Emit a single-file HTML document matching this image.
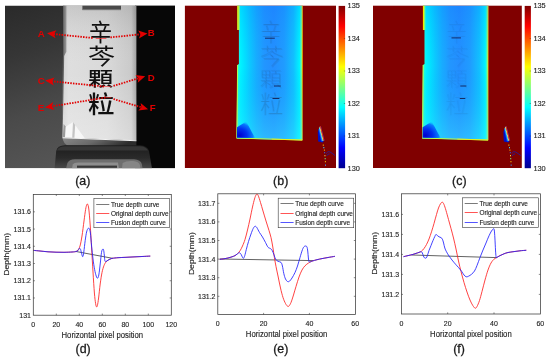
<!DOCTYPE html>
<html lang="en"><head><meta charset="utf-8"><title>Depth fusion figure</title>
<style>
html,body{margin:0;padding:0;background:#fff;}
body{width:550px;height:363px;overflow:hidden;}
svg{display:block;}
text{font-family:"Liberation Sans", sans-serif;fill:#262626;}
.tk,.lb,.lg,.cb{stroke:#262626;stroke-width:0.13px;}
.tk{font-size:7px;}
.lb{font-size:7.73px;}
.lg{font-size:6.47px;}
.cap{font-size:12.4px;fill:#1a1a1a;stroke:#1a1a1a;stroke-width:0.3px;}
.cb{font-size:7.4px;}
.red{font-size:9.7px;fill:#e00000;font-weight:bold;}
.han{font-family:"Liberation Sans", "Noto Sans CJK SC", sans-serif;fill:#101010;}
.emb{font-family:"Liberation Sans", "Noto Sans CJK SC", sans-serif;font-weight:200;}
</style></head><body>
<svg width="550" height="363" viewBox="0 0 550 363">
<defs>
<linearGradient id="bgL" gradientUnits="userSpaceOnUse" x1="5" y1="5" x2="60" y2="168"><stop offset="0" stop-color="#2a2a2a"/><stop offset="0.3" stop-color="#363636"/><stop offset="0.65" stop-color="#4a4a4a"/><stop offset="1" stop-color="#565656"/></linearGradient>
<linearGradient id="boxG" x1="0" y1="0" x2="1" y2="0"><stop offset="0" stop-color="#d2d2d2"/><stop offset="0.08" stop-color="#dedede"/><stop offset="0.6" stop-color="#d9d9d9"/><stop offset="0.93" stop-color="#cacaca"/><stop offset="1" stop-color="#a0a0a0"/></linearGradient>
<linearGradient id="boxV" x1="0" y1="0" x2="0" y2="1"><stop offset="0" stop-color="#000" stop-opacity="0.10"/><stop offset="0.5" stop-color="#fff" stop-opacity="0"/><stop offset="1" stop-color="#fff" stop-opacity="0.28"/></linearGradient>
<linearGradient id="standG" x1="0" y1="0" x2="0" y2="1"><stop offset="0" stop-color="#1c1c1c"/><stop offset="0.55" stop-color="#2a2a2a"/><stop offset="1" stop-color="#4a4a4a"/></linearGradient>
<linearGradient id="shadG" x1="0" y1="0" x2="1" y2="0.25"><stop offset="0" stop-color="#8a8a8a"/><stop offset="0.5" stop-color="#6a6a6a"/><stop offset="1" stop-color="#2c2c2c"/></linearGradient>
<linearGradient id="jet" x1="0" y1="1" x2="0" y2="0"><stop offset="0" stop-color="#00008f"/><stop offset="0.125" stop-color="#0000ff"/><stop offset="0.375" stop-color="#00ffff"/><stop offset="0.625" stop-color="#ffff00"/><stop offset="0.875" stop-color="#ff0000"/><stop offset="1" stop-color="#800000"/></linearGradient>
<linearGradient id="dbox" x1="0" y1="0" x2="1" y2="0"><stop offset="0" stop-color="#a0ff60"/><stop offset="0.025" stop-color="#20ffd8"/><stop offset="0.06" stop-color="#00f4ff"/><stop offset="0.12" stop-color="#02e2ff"/><stop offset="0.20" stop-color="#0cc8ff"/><stop offset="0.30" stop-color="#18acff"/><stop offset="0.42" stop-color="#2296ff"/><stop offset="0.56" stop-color="#248eff"/><stop offset="0.72" stop-color="#209cff"/><stop offset="0.86" stop-color="#12c0ff"/><stop offset="0.95" stop-color="#00f4ff"/><stop offset="0.978" stop-color="#60ffa0"/><stop offset="0.992" stop-color="#ffe800"/><stop offset="1" stop-color="#ff9000"/></linearGradient>
<linearGradient id="dboxV" x1="0" y1="0" x2="0" y2="1"><stop offset="0" stop-color="#0060ff" stop-opacity="0.18"/><stop offset="0.45" stop-color="#00a0ff" stop-opacity="0"/><stop offset="1" stop-color="#40f0ff" stop-opacity="0.40"/></linearGradient>
<linearGradient id="artG" x1="0" y1="0" x2="1" y2="0"><stop offset="0" stop-color="#0000c0"/><stop offset="0.35" stop-color="#0040ff"/><stop offset="0.55" stop-color="#20e0ff"/><stop offset="0.72" stop-color="#ffe000"/><stop offset="0.88" stop-color="#ff3000"/><stop offset="1" stop-color="#a00000"/></linearGradient>
<radialGradient id="blob" cx="0.15" cy="0.85" r="0.9"><stop offset="0" stop-color="#0000d0"/><stop offset="0.45" stop-color="#0030f0"/><stop offset="0.8" stop-color="#0878ff"/><stop offset="1" stop-color="#10a8ff" stop-opacity="0"/></radialGradient>
<clipPath id="clipA"><rect x="5" y="5.5" width="170" height="162.8"/></clipPath>
</defs>
<rect x="0" y="0" width="550" height="363" fill="#ffffff"/>
<g clip-path="url(#clipA)">
<rect x="5" y="5.5" width="170" height="162.8" fill="url(#bgL)"/>
<rect x="135" y="5.5" width="40" height="162.8" fill="#070707"/>
<path d="M63.2 5.5 L66.4 5.5 L66.4 138 L62.4 138.2 L63.0 52 Z" fill="#8c8c8c"/>
<path d="M63.2 5.5 L64.4 5.5 L64.2 138 L62.4 138.2 L63.0 52 Z" fill="#626262"/>
<path d="M66.2 5.5 L136.4 5.5 L136.4 140.6 L62.6 137.6 L64.2 56 L66.2 52 Z" fill="url(#boxG)"/>
<path d="M66.2 5.5 L136.4 5.5 L136.4 140.6 L62.6 137.6 L64.2 56 L66.2 52 Z" fill="url(#boxV)"/>
<rect x="82.4" y="5.5" width="38.6" height="4.4" fill="#4a4a4a"/>
<rect x="82.4" y="9.3" width="38.6" height="0.9" fill="#808080"/>
<path d="M64.6 137.6 L65.4 127 L73 122 L78 129 L85 138.4 Z" fill="#f7f7f7"/>
<path d="M73 122 L75.2 125 L74.4 138 L72.2 137.9 Z" fill="#c4c4c4"/>
<path d="M63.6 124 L65.6 126.6 L65 137.6 L62.8 137.6 Z" fill="#9a9a9a"/>
<path d="M62.4 137.6 L136.4 140.6 L136.4 146 L68 145.6 Q63.2 143.6 62.4 137.6 Z" fill="url(#shadG)"/>
<path d="M62.6 137.3 L136.4 140.3 L136.4 141.3 L62.6 138.3 Z" fill="#f4f4f4"/>
<path d="M54.6 168.5 L56.2 151 Q57.4 145.4 65 145.2 L140 145.2 Q147.5 145.6 149 151 L152 168.5 Z" fill="url(#standG)"/>
<path d="M57 150.6 Q58 146.4 65 146.2 L140 146.2 Q146 146.4 148 150.6 Z" fill="#3c3c3c" opacity="0.8"/>
<path d="M66 168.5 L67.4 163 Q69 159.4 75 159.2 L134 159.2 Q140.6 159.6 141.8 164 L142.6 168.5 Z" fill="#6e6e6e"/>
<path d="M72 168.5 L72.8 164.6 Q74 162.6 78 162.6 L118 162.6 L119 168.5 Z" fill="#9a9a9a" opacity="0.75"/>
<rect x="77" y="165.6" width="40" height="2.2" fill="#2a2a2a" opacity="0.85"/>
<path d="M122 168.5 L122.6 163 Q126 160.6 133 161 Q139 161.6 140 165 L140.4 168.5 Z" fill="#8c8c8c" opacity="0.8"/>
</g>
<text class="han" transform="translate(100.60 40.94) scale(1.051 1.100)" font-size="22" font-weight="400" text-anchor="middle">辛</text>
<text class="han" transform="translate(101.50 64.36) scale(1.222 0.986)" font-size="22" font-weight="400" text-anchor="middle">芩</text>
<text class="han" transform="translate(100.70 86.33) scale(1.144 0.895)" font-size="22" font-weight="500" text-anchor="middle">顆</text>
<text class="han" transform="translate(101.30 112.76) scale(1.207 1.091)" font-size="22" font-weight="500" text-anchor="middle">粒</text>
<line x1="92.60" y1="38.00" x2="53.96" y2="34.02" stroke="#e20000" stroke-width="1.8" stroke-dasharray="1.5 1.2"/>
<path d="M47.00 33.30 L56.36 30.24 L53.96 34.02 L55.54 38.20 Z" fill="#e20000"/>
<line x1="110.40" y1="37.40" x2="140.54" y2="34.31" stroke="#e20000" stroke-width="1.8" stroke-dasharray="1.5 1.2"/>
<path d="M147.50 33.60 L138.95 38.50 L140.54 34.31 L138.14 30.54 Z" fill="#e20000"/>
<line x1="104.00" y1="86.50" x2="52.17" y2="81.30" stroke="#e20000" stroke-width="1.8" stroke-dasharray="1.5 1.2"/>
<path d="M45.20 80.60 L54.55 77.52 L52.17 81.30 L53.76 85.48 Z" fill="#e20000"/>
<line x1="113.50" y1="85.90" x2="138.51" y2="78.25" stroke="#e20000" stroke-width="1.8" stroke-dasharray="1.5 1.2"/>
<path d="M145.20 76.20 L137.76 82.66 L138.51 78.25 L135.42 75.01 Z" fill="#e20000"/>
<line x1="105.50" y1="97.50" x2="51.91" y2="106.36" stroke="#e20000" stroke-width="1.8" stroke-dasharray="1.5 1.2"/>
<path d="M45.00 107.50 L53.23 102.09 L51.91 106.36 L54.53 109.98 Z" fill="#e20000"/>
<line x1="113.50" y1="99.00" x2="141.39" y2="107.30" stroke="#e20000" stroke-width="1.8" stroke-dasharray="1.5 1.2"/>
<path d="M148.10 109.30 L138.33 110.57 L141.39 107.30 L140.62 102.90 Z" fill="#e20000"/>
<line x1="95.7" y1="38.5" x2="106.4" y2="38.5" stroke="#ff3030" stroke-width="0.7"/>
<line x1="104" y1="86.5" x2="111.5" y2="86.5" stroke="#ff3030" stroke-width="0.6"/>
<line x1="105.5" y1="97.6" x2="111.5" y2="97.6" stroke="#ff3030" stroke-width="0.6"/>
<text class="red" x="41.2" y="36.6" text-anchor="middle">A</text>
<text class="red" x="151.3" y="35.8" text-anchor="middle">B</text>
<text class="red" x="41.3" y="84" text-anchor="middle">C</text>
<text class="red" x="151.2" y="81" text-anchor="middle">D</text>
<text class="red" x="40.9" y="110.6" text-anchor="middle">E</text>
<text class="red" x="152.8" y="111" text-anchor="middle">F</text>
<rect x="184.9" y="5.7" width="151.1" height="162.3" fill="#800000"/>
<path d="M237.4 5.7 L302.8 5.7 L302.6 140.3 L236.6 138.4 L237.3 65 L238.9 64 L238.9 30 L237.4 30 Z" fill="url(#dbox)"/>
<path d="M237.4 5.7 L302.8 5.7 L302.6 140.3 L236.6 138.4 L237.3 65 L238.9 64 L238.9 30 L237.4 30 Z" fill="url(#dboxV)"/>
<line x1="237.2" y1="138.1" x2="302.2" y2="140" stroke="#b8ff48" stroke-width="1"/>
<line x1="271.8" y1="139.1" x2="302.2" y2="140.1" stroke="#ffe800" stroke-width="0.9" stroke-opacity="0.8"/>
<rect x="237.3" y="5.7" width="1.5" height="24.3" fill="#f0e800"/>
<rect x="238.8" y="5.7" width="0.8" height="24.3" fill="#90ff70"/>
<path d="M237.6 65 L236.9 138.4" stroke="#a8ff58" stroke-width="1" fill="none"/>
<path d="M236.9 137.8 L237 127.2 L246.2 121.4 L248.4 125.5 L252.3 133 L255.3 138 Z" fill="url(#blob)"/>
<text class="emb" transform="translate(270.79 40.94) scale(0.925 1.100)" font-size="22" text-anchor="middle" fill="#0048f0" fill-opacity="0.1">辛</text>
<text class="emb" transform="translate(271.59 41.24) scale(0.925 1.100)" font-size="22" text-anchor="middle" fill="#90f0ff" fill-opacity="0.08">辛</text>
<text class="emb" transform="translate(271.61 64.36) scale(1.075 0.986)" font-size="22" text-anchor="middle" fill="#0048f0" fill-opacity="0.1">芩</text>
<text class="emb" transform="translate(272.41 64.66) scale(1.075 0.986)" font-size="22" text-anchor="middle" fill="#90f0ff" fill-opacity="0.08">芩</text>
<text class="emb" transform="translate(270.88 86.33) scale(1.006 0.895)" font-size="22" text-anchor="middle" fill="#0048f0" fill-opacity="0.1">顆</text>
<text class="emb" transform="translate(271.68 86.63) scale(1.006 0.895)" font-size="22" text-anchor="middle" fill="#90f0ff" fill-opacity="0.08">顆</text>
<text class="emb" transform="translate(271.43 112.76) scale(1.062 1.091)" font-size="22" text-anchor="middle" fill="#0048f0" fill-opacity="0.1">粒</text>
<text class="emb" transform="translate(272.23 113.06) scale(1.062 1.091)" font-size="22" text-anchor="middle" fill="#90f0ff" fill-opacity="0.08">粒</text>
<line x1="265" y1="38.2" x2="274.8" y2="38.2" stroke="#101040" stroke-width="0.8"/>
<line x1="274" y1="86" x2="280.8" y2="86" stroke="#101040" stroke-width="0.8"/>
<line x1="272.5" y1="98.5" x2="279.4" y2="98.5" stroke="#101040" stroke-width="0.8"/>
<path d="M319.8 126.2 L321 126.2 L324.6 140.2 L322.6 142.5 L318.2 141.4 L317.8 132 Z" fill="#0010c8"/>
<line x1="318.89" y1="129.28" x2="321.70" y2="141.50" stroke="#0050ff" stroke-width="1"/>
<line x1="319.33" y1="127.88" x2="322.50" y2="141.14" stroke="#28e0ff" stroke-width="0.9"/>
<line x1="319.78" y1="126.90" x2="323.20" y2="140.83" stroke="#fff060" stroke-width="0.9"/>
<line x1="320.40" y1="126.20" x2="324.00" y2="140.47" stroke="#ff3000" stroke-width="0.9"/>
<rect x="322.8" y="144.5" width="0.9" height="1.3" fill="#ffd000"/>
<rect x="323.4" y="147.0" width="0.9" height="1.3" fill="#40e0ff"/>
<rect x="323.9" y="149.5" width="0.9" height="1.3" fill="#ffb000"/>
<rect x="324.2" y="152.0" width="0.9" height="1.3" fill="#2060ff"/>
<rect x="324.5" y="155.0" width="0.9" height="1.3" fill="#ffe040"/>
<rect x="324.7" y="158.0" width="0.9" height="1.3" fill="#60ff90"/>
<rect x="324.9" y="161.0" width="0.9" height="1.3" fill="#ffd000"/>
<rect x="325.1" y="164.5" width="0.9" height="1.3" fill="#40a0ff"/>
<path d="M326.1 153.5 q2 -3 4 -1.5 q2.5 1.5 5 3.5 M326.6 156 q1 -2.5 3 -2" fill="none" stroke="#1020c0" stroke-width="0.7"/>
<rect x="338.6" y="5.9" width="6.5" height="162.3" fill="url(#jet)"/>
<text class="cb" x="347.6" y="8.40">135</text>
<text class="cb" x="347.6" y="40.90">134</text>
<line x1="343.9" y1="38.50" x2="345.1" y2="38.50" stroke="#262626" stroke-width="0.4"/>
<text class="cb" x="347.6" y="73.40">133</text>
<line x1="343.9" y1="71.00" x2="345.1" y2="71.00" stroke="#262626" stroke-width="0.4"/>
<text class="cb" x="347.6" y="105.90">132</text>
<line x1="343.9" y1="103.50" x2="345.1" y2="103.50" stroke="#262626" stroke-width="0.4"/>
<text class="cb" x="347.6" y="138.40">131</text>
<line x1="343.9" y1="136.00" x2="345.1" y2="136.00" stroke="#262626" stroke-width="0.4"/>
<text class="cb" x="347.6" y="170.90">130</text>
<rect x="373" y="5.7" width="148.8" height="162.3" fill="#800000"/>
<path d="M423 5.7 L488.6 5.7 L488.4 140.3 L422.2 138.4 L422.9 65 L424.5 64 L424.5 30 L423 30 Z" fill="url(#dbox)"/>
<path d="M423 5.7 L488.6 5.7 L488.4 140.3 L422.2 138.4 L422.9 65 L424.5 64 L424.5 30 L423 30 Z" fill="url(#dboxV)"/>
<line x1="422.8" y1="138.1" x2="488" y2="140" stroke="#b8ff48" stroke-width="1"/>
<line x1="457.4" y1="139.1" x2="488" y2="140.1" stroke="#ffe800" stroke-width="0.9" stroke-opacity="0.8"/>
<rect x="422.9" y="5.7" width="1.5" height="24.3" fill="#f0e800"/>
<rect x="424.4" y="5.7" width="0.8" height="24.3" fill="#90ff70"/>
<path d="M423.2 65 L422.5 138.4" stroke="#a8ff58" stroke-width="1" fill="none"/>
<path d="M422.5 137.8 L422.6 127.2 L431.8 121.4 L434 125.5 L437.9 133 L440.9 138 Z" fill="url(#blob)"/>
<text class="emb" transform="translate(456.39 40.94) scale(0.925 1.100)" font-size="22" text-anchor="middle" fill="#0048f0" fill-opacity="0.035">辛</text>
<text class="emb" transform="translate(457.19 41.24) scale(0.925 1.100)" font-size="22" text-anchor="middle" fill="#90f0ff" fill-opacity="0.028">辛</text>
<text class="emb" transform="translate(457.21 64.36) scale(1.075 0.986)" font-size="22" text-anchor="middle" fill="#0048f0" fill-opacity="0.035">芩</text>
<text class="emb" transform="translate(458.01 64.66) scale(1.075 0.986)" font-size="22" text-anchor="middle" fill="#90f0ff" fill-opacity="0.028">芩</text>
<text class="emb" transform="translate(456.48 86.33) scale(1.006 0.895)" font-size="22" text-anchor="middle" fill="#0048f0" fill-opacity="0.035">顆</text>
<text class="emb" transform="translate(457.28 86.63) scale(1.006 0.895)" font-size="22" text-anchor="middle" fill="#90f0ff" fill-opacity="0.028">顆</text>
<text class="emb" transform="translate(457.03 112.76) scale(1.062 1.091)" font-size="22" text-anchor="middle" fill="#0048f0" fill-opacity="0.035">粒</text>
<text class="emb" transform="translate(457.83 113.06) scale(1.062 1.091)" font-size="22" text-anchor="middle" fill="#90f0ff" fill-opacity="0.028">粒</text>
<line x1="451.5" y1="37.9" x2="460.9" y2="37.9" stroke="#101040" stroke-width="0.8"/>
<line x1="460.3" y1="86" x2="466.4" y2="86" stroke="#101040" stroke-width="0.8"/>
<line x1="459.8" y1="98.5" x2="465.3" y2="98.5" stroke="#101040" stroke-width="0.8"/>
<path d="M505.4 126.2 L506.6 126.2 L510.2 140.2 L508.2 142.5 L503.8 141.4 L503.4 132 Z" fill="#0010c8"/>
<line x1="504.49" y1="129.28" x2="507.30" y2="141.50" stroke="#0050ff" stroke-width="1"/>
<line x1="504.93" y1="127.88" x2="508.10" y2="141.14" stroke="#28e0ff" stroke-width="0.9"/>
<line x1="505.38" y1="126.90" x2="508.80" y2="140.83" stroke="#fff060" stroke-width="0.9"/>
<line x1="506.00" y1="126.20" x2="509.60" y2="140.47" stroke="#ff3000" stroke-width="0.9"/>
<rect x="508.4" y="144.5" width="0.9" height="1.3" fill="#ffd000"/>
<rect x="509.0" y="147.0" width="0.9" height="1.3" fill="#40e0ff"/>
<rect x="509.5" y="149.5" width="0.9" height="1.3" fill="#ffb000"/>
<rect x="509.8" y="152.0" width="0.9" height="1.3" fill="#2060ff"/>
<rect x="510.1" y="155.0" width="0.9" height="1.3" fill="#ffe040"/>
<rect x="510.3" y="158.0" width="0.9" height="1.3" fill="#60ff90"/>
<rect x="510.5" y="161.0" width="0.9" height="1.3" fill="#ffd000"/>
<rect x="510.7" y="164.5" width="0.9" height="1.3" fill="#40a0ff"/>
<path d="M511.7 153.5 q2 -3 4 -1.5 q2.5 1.5 5 3.5 M512.2 156 q1 -2.5 3 -2" fill="none" stroke="#1020c0" stroke-width="0.7"/>
<rect x="524.7" y="5.9" width="6.2" height="162.3" fill="url(#jet)"/>
<text class="cb" x="533.4" y="8.40">135</text>
<text class="cb" x="533.4" y="40.90">134</text>
<line x1="529.7" y1="38.50" x2="530.9" y2="38.50" stroke="#262626" stroke-width="0.4"/>
<text class="cb" x="533.4" y="73.40">133</text>
<line x1="529.7" y1="71.00" x2="530.9" y2="71.00" stroke="#262626" stroke-width="0.4"/>
<text class="cb" x="533.4" y="105.90">132</text>
<line x1="529.7" y1="103.50" x2="530.9" y2="103.50" stroke="#262626" stroke-width="0.4"/>
<text class="cb" x="533.4" y="138.40">131</text>
<line x1="529.7" y1="136.00" x2="530.9" y2="136.00" stroke="#262626" stroke-width="0.4"/>
<text class="cb" x="533.4" y="170.90">130</text>
<text class="cap" x="82.8" y="185" text-anchor="middle">(a)</text>
<text class="cap" x="280.7" y="185" text-anchor="middle">(b)</text>
<text class="cap" x="459.3" y="185" text-anchor="middle">(c)</text>
<text class="cap" x="83.1" y="353" text-anchor="middle">(d)</text>
<text class="cap" x="280.8" y="353" text-anchor="middle">(e)</text>
<text class="cap" x="459" y="353" text-anchor="middle">(f)</text>
<path d="M76.00 251.50 L112.50 258.30" fill="none" stroke="#202020" stroke-width="0.7" stroke-linejoin="round" stroke-linecap="round"/>
<path d="M33.80 250.40 C34.83 250.50 37.63 250.77 40.00 251.00 C42.37 251.23 45.33 251.60 48.00 251.80 C50.67 252.00 53.33 252.12 56.00 252.20 C58.67 252.28 61.33 252.33 64.00 252.30 C66.67 252.27 70.00 252.13 72.00 252.00 C74.00 251.87 75.00 251.83 76.00 251.50 C77.00 251.17 77.33 250.92 78.00 250.00 C78.67 249.08 79.33 248.33 80.00 246.00 C80.67 243.67 81.33 240.17 82.00 236.00 C82.67 231.83 83.40 225.42 84.00 221.00 C84.60 216.58 85.13 212.23 85.60 209.50 C86.07 206.77 86.45 205.45 86.80 204.60 C87.15 203.75 87.37 203.67 87.70 204.40 C88.03 205.13 88.38 205.57 88.80 209.00 C89.22 212.43 89.73 218.50 90.20 225.00 C90.67 231.50 91.13 240.17 91.60 248.00 C92.07 255.83 92.53 264.50 93.00 272.00 C93.47 279.50 93.97 287.75 94.40 293.00 C94.83 298.25 95.25 301.20 95.60 303.50 C95.95 305.80 96.20 306.47 96.50 306.80 C96.80 307.13 97.05 306.97 97.40 305.50 C97.75 304.03 98.13 301.58 98.60 298.00 C99.07 294.42 99.63 288.25 100.20 284.00 C100.77 279.75 101.37 275.58 102.00 272.50 C102.63 269.42 103.33 267.25 104.00 265.50 C104.67 263.75 105.25 262.93 106.00 262.00 C106.75 261.07 107.67 260.43 108.50 259.90 C109.33 259.37 110.33 259.07 111.00 258.80 C111.67 258.53 111.33 258.48 112.50 258.30 C113.67 258.12 115.75 257.87 118.00 257.70 C120.25 257.53 123.33 257.43 126.00 257.30 C128.67 257.17 131.33 257.03 134.00 256.90 C136.67 256.77 139.35 256.63 142.00 256.50 C144.65 256.37 148.58 256.17 149.90 256.10" fill="none" stroke="#ff2020" stroke-width="0.85" stroke-linejoin="round" stroke-linecap="round"/>
<path d="M33.80 250.40 C34.83 250.50 37.63 250.77 40.00 251.00 C42.37 251.23 45.33 251.60 48.00 251.80 C50.67 252.00 53.33 252.12 56.00 252.20 C58.67 252.28 61.33 252.33 64.00 252.30 C66.67 252.27 70.00 252.13 72.00 252.00 C74.00 251.87 75.00 251.73 76.00 251.50 C77.00 251.27 77.43 251.13 78.00 250.60 C78.57 250.07 78.97 248.48 79.40 248.30 C79.83 248.12 80.20 248.47 80.60 249.50 C81.00 250.53 81.43 253.32 81.80 254.50 C82.17 255.68 82.47 257.02 82.80 256.60 C83.13 256.18 83.40 254.68 83.80 252.00 C84.20 249.32 84.73 243.83 85.20 240.50 C85.67 237.17 86.13 233.98 86.60 232.00 C87.07 230.02 87.55 229.17 88.00 228.60 C88.45 228.03 88.90 227.87 89.30 228.60 C89.70 229.33 90.02 230.10 90.40 233.00 C90.78 235.90 91.17 241.67 91.60 246.00 C92.03 250.33 92.50 255.08 93.00 259.00 C93.50 262.92 94.07 266.67 94.60 269.50 C95.13 272.33 95.72 274.55 96.20 276.00 C96.68 277.45 97.07 278.37 97.50 278.20 C97.93 278.03 98.35 277.37 98.80 275.00 C99.25 272.63 99.75 267.75 100.20 264.00 C100.65 260.25 101.12 254.93 101.50 252.50 C101.88 250.07 102.17 249.88 102.50 249.40 C102.83 248.92 103.20 248.67 103.50 249.60 C103.80 250.53 104.07 253.13 104.30 255.00 C104.53 256.87 104.62 259.73 104.90 260.80 C105.18 261.87 105.48 261.50 106.00 261.40 C106.52 261.30 107.33 260.58 108.00 260.20 C108.67 259.82 109.25 259.42 110.00 259.10 C110.75 258.78 111.17 258.53 112.50 258.30 C113.83 258.07 115.75 257.87 118.00 257.70 C120.25 257.53 123.33 257.43 126.00 257.30 C128.67 257.17 131.33 257.03 134.00 256.90 C136.67 256.77 139.35 256.63 142.00 256.50 C144.65 256.37 148.58 256.17 149.90 256.10" fill="none" stroke="#2020ff" stroke-width="0.85" stroke-linejoin="round" stroke-linecap="round"/>
<rect x="33.3" y="194.4" width="138" height="120.8" fill="none" stroke="#3a3a3a" stroke-width="0.75"/>
<text class="tk" transform="translate(33.30 326.90) scale(1 1.09)" text-anchor="middle">0</text>
<path d="M56.30 315.2 v-1.6 M56.30 194.4 v1.6" stroke="#3a3a3a" stroke-width="0.6" fill="none"/>
<text class="tk" transform="translate(56.30 326.90) scale(1 1.09)" text-anchor="middle">20</text>
<path d="M79.30 315.2 v-1.6 M79.30 194.4 v1.6" stroke="#3a3a3a" stroke-width="0.6" fill="none"/>
<text class="tk" transform="translate(79.30 326.90) scale(1 1.09)" text-anchor="middle">40</text>
<path d="M102.30 315.2 v-1.6 M102.30 194.4 v1.6" stroke="#3a3a3a" stroke-width="0.6" fill="none"/>
<text class="tk" transform="translate(102.30 326.90) scale(1 1.09)" text-anchor="middle">60</text>
<path d="M125.30 315.2 v-1.6 M125.30 194.4 v1.6" stroke="#3a3a3a" stroke-width="0.6" fill="none"/>
<text class="tk" transform="translate(125.30 326.90) scale(1 1.09)" text-anchor="middle">80</text>
<path d="M148.30 315.2 v-1.6 M148.30 194.4 v1.6" stroke="#3a3a3a" stroke-width="0.6" fill="none"/>
<text class="tk" transform="translate(148.30 326.90) scale(1 1.09)" text-anchor="middle">100</text>
<text class="tk" transform="translate(171.30 326.90) scale(1 1.09)" text-anchor="middle">120</text>
<text class="tk" transform="translate(31.00 317.70) scale(1 1.09)" text-anchor="end">131</text>
<path d="M33.3 297.97 h1.6 M171.3 297.97 h-1.6" stroke="#3a3a3a" stroke-width="0.6" fill="none"/>
<text class="tk" transform="translate(31.00 300.47) scale(1 1.09)" text-anchor="end">131.1</text>
<path d="M33.3 280.74 h1.6 M171.3 280.74 h-1.6" stroke="#3a3a3a" stroke-width="0.6" fill="none"/>
<text class="tk" transform="translate(31.00 283.24) scale(1 1.09)" text-anchor="end">131.2</text>
<path d="M33.3 263.51 h1.6 M171.3 263.51 h-1.6" stroke="#3a3a3a" stroke-width="0.6" fill="none"/>
<text class="tk" transform="translate(31.00 266.01) scale(1 1.09)" text-anchor="end">131.3</text>
<path d="M33.3 246.28 h1.6 M171.3 246.28 h-1.6" stroke="#3a3a3a" stroke-width="0.6" fill="none"/>
<text class="tk" transform="translate(31.00 248.78) scale(1 1.09)" text-anchor="end">131.4</text>
<path d="M33.3 229.05 h1.6 M171.3 229.05 h-1.6" stroke="#3a3a3a" stroke-width="0.6" fill="none"/>
<text class="tk" transform="translate(31.00 231.55) scale(1 1.09)" text-anchor="end">131.5</text>
<path d="M33.3 211.82 h1.6 M171.3 211.82 h-1.6" stroke="#3a3a3a" stroke-width="0.6" fill="none"/>
<text class="tk" transform="translate(31.00 214.32) scale(1 1.09)" text-anchor="end">131.6</text>
<text class="lb" transform="translate(102.30 337.90) scale(1 1.09)" text-anchor="middle">Horizontal pixel position</text>
<text class="lb" transform="translate(9.00 254.30) rotate(-90) scale(1.11 1)" text-anchor="middle">Depth(mm)</text>
<rect x="93.9" y="198.3" width="75.7" height="29.4" fill="#ffffff" stroke="#3a3a3a" stroke-width="0.6"/>
<line x1="96.2" y1="204.50" x2="109.3" y2="204.50" stroke="#202020" stroke-width="0.6"/>
<text class="lg" transform="translate(110.90 206.55) scale(1 1.09)" text-anchor="start">True depth curve</text>
<line x1="96.2" y1="213.50" x2="109.3" y2="213.50" stroke="#ff2a2a" stroke-width="0.8"/>
<text class="lg" transform="translate(110.90 215.85) scale(1 1.09)" text-anchor="start">Original depth curve</text>
<line x1="96.2" y1="222.50" x2="109.3" y2="222.50" stroke="#2a2aff" stroke-width="0.8"/>
<text class="lg" transform="translate(110.90 225.15) scale(1 1.09)" text-anchor="start">Fusion depth curve</text>
<path d="M220.10 259.00 L312.70 260.60" fill="none" stroke="#202020" stroke-width="0.7" stroke-linejoin="round" stroke-linecap="round"/>
<path d="M220.10 259.30 C220.75 259.22 222.68 259.02 224.00 258.80 C225.32 258.58 226.67 258.33 228.00 258.00 C229.33 257.67 230.83 257.20 232.00 256.80 C233.17 256.40 234.08 256.13 235.00 255.60 C235.92 255.07 236.67 254.40 237.50 253.60 C238.33 252.80 239.17 252.07 240.00 250.80 C240.83 249.53 241.67 247.88 242.50 246.00 C243.33 244.12 244.17 242.17 245.00 239.50 C245.83 236.83 246.67 233.42 247.50 230.00 C248.33 226.58 249.17 222.83 250.00 219.00 C250.83 215.17 251.75 210.33 252.50 207.00 C253.25 203.67 253.92 201.00 254.50 199.00 C255.08 197.00 255.58 195.78 256.00 195.00 C256.42 194.22 256.63 194.22 257.00 194.30 C257.37 194.38 257.62 194.13 258.20 195.50 C258.78 196.87 259.70 199.92 260.50 202.50 C261.30 205.08 262.08 207.92 263.00 211.00 C263.92 214.08 265.00 217.75 266.00 221.00 C267.00 224.25 268.17 227.75 269.00 230.50 C269.83 233.25 270.37 234.75 271.00 237.50 C271.63 240.25 272.23 243.67 272.80 247.00 C273.37 250.33 273.87 254.25 274.40 257.50 C274.93 260.75 275.40 263.42 276.00 266.50 C276.60 269.58 277.25 272.42 278.00 276.00 C278.75 279.58 279.67 284.42 280.50 288.00 C281.33 291.58 282.17 294.92 283.00 297.50 C283.83 300.08 284.75 302.05 285.50 303.50 C286.25 304.95 286.92 305.78 287.50 306.20 C288.08 306.62 288.42 306.62 289.00 306.00 C289.58 305.38 290.25 304.33 291.00 302.50 C291.75 300.67 292.67 297.67 293.50 295.00 C294.33 292.33 295.08 289.50 296.00 286.50 C296.92 283.50 298.00 279.75 299.00 277.00 C300.00 274.25 301.00 271.87 302.00 270.00 C303.00 268.13 303.92 266.97 305.00 265.80 C306.08 264.63 307.50 263.70 308.50 263.00 C309.50 262.30 310.30 261.95 311.00 261.60 C311.70 261.25 311.70 261.22 312.70 260.90 C313.70 260.58 315.45 260.08 317.00 259.70 C318.55 259.32 320.17 258.97 322.00 258.60 C323.83 258.23 325.92 257.87 328.00 257.50 C330.08 257.13 333.42 256.58 334.50 256.40" fill="none" stroke="#ff2020" stroke-width="0.85" stroke-linejoin="round" stroke-linecap="round"/>
<path d="M220.10 259.30 C220.75 259.22 222.68 259.02 224.00 258.80 C225.32 258.58 226.67 258.33 228.00 258.00 C229.33 257.67 230.83 257.20 232.00 256.80 C233.17 256.40 234.08 256.10 235.00 255.60 C235.92 255.10 236.77 254.28 237.50 253.80 C238.23 253.32 238.78 252.58 239.40 252.70 C240.02 252.82 240.67 253.68 241.20 254.50 C241.73 255.32 242.20 256.98 242.60 257.60 C243.00 258.22 243.23 258.55 243.60 258.20 C243.97 257.85 244.35 256.95 244.80 255.50 C245.25 254.05 245.68 251.83 246.30 249.50 C246.92 247.17 247.72 244.08 248.50 241.50 C249.28 238.92 250.22 236.17 251.00 234.00 C251.78 231.83 252.53 229.78 253.20 228.50 C253.87 227.22 254.40 226.47 255.00 226.30 C255.60 226.13 256.05 226.47 256.80 227.50 C257.55 228.53 258.55 230.92 259.50 232.50 C260.45 234.08 261.50 235.33 262.50 237.00 C263.50 238.67 264.58 240.80 265.50 242.50 C266.42 244.20 267.17 246.18 268.00 247.20 C268.83 248.22 269.80 248.05 270.50 248.60 C271.20 249.15 271.62 249.47 272.20 250.50 C272.78 251.53 273.43 253.35 274.00 254.80 C274.57 256.25 274.93 258.12 275.60 259.20 C276.27 260.28 277.10 260.77 278.00 261.30 C278.90 261.83 280.27 261.62 281.00 262.40 C281.73 263.18 281.93 264.15 282.40 266.00 C282.87 267.85 283.28 271.33 283.80 273.50 C284.32 275.67 284.88 277.67 285.50 279.00 C286.12 280.33 286.83 281.13 287.50 281.50 C288.17 281.87 288.75 281.78 289.50 281.20 C290.25 280.62 291.08 279.45 292.00 278.00 C292.92 276.55 294.08 274.50 295.00 272.50 C295.92 270.50 296.67 268.50 297.50 266.00 C298.33 263.50 299.17 260.25 300.00 257.50 C300.83 254.75 301.77 251.35 302.50 249.50 C303.23 247.65 303.72 246.92 304.40 246.40 C305.08 245.88 306.07 245.80 306.60 246.40 C307.13 247.00 307.28 247.90 307.60 250.00 C307.92 252.10 308.22 257.00 308.50 259.00 C308.78 261.00 308.88 261.58 309.30 262.00 C309.72 262.42 310.43 261.68 311.00 261.50 C311.57 261.32 311.70 261.20 312.70 260.90 C313.70 260.60 315.45 260.08 317.00 259.70 C318.55 259.32 320.17 258.97 322.00 258.60 C323.83 258.23 325.92 257.87 328.00 257.50 C330.08 257.13 333.42 256.58 334.50 256.40" fill="none" stroke="#2020ff" stroke-width="0.85" stroke-linejoin="round" stroke-linecap="round"/>
<rect x="217.8" y="193.8" width="137.6" height="120.7" fill="none" stroke="#3a3a3a" stroke-width="0.75"/>
<text class="tk" transform="translate(217.80 326.20) scale(1 1.09)" text-anchor="middle">0</text>
<path d="M263.60 314.5 v-1.6 M263.60 193.8 v1.6" stroke="#3a3a3a" stroke-width="0.6" fill="none"/>
<text class="tk" transform="translate(263.60 326.20) scale(1 1.09)" text-anchor="middle">20</text>
<path d="M309.40 314.5 v-1.6 M309.40 193.8 v1.6" stroke="#3a3a3a" stroke-width="0.6" fill="none"/>
<text class="tk" transform="translate(309.40 326.20) scale(1 1.09)" text-anchor="middle">40</text>
<text class="tk" transform="translate(355.20 326.20) scale(1 1.09)" text-anchor="middle">60</text>
<path d="M217.8 296.30 h1.6 M355.4 296.30 h-1.6" stroke="#3a3a3a" stroke-width="0.6" fill="none"/>
<text class="tk" transform="translate(215.50 298.80) scale(1 1.09)" text-anchor="end">131.2</text>
<path d="M217.8 277.70 h1.6 M355.4 277.70 h-1.6" stroke="#3a3a3a" stroke-width="0.6" fill="none"/>
<text class="tk" transform="translate(215.50 280.20) scale(1 1.09)" text-anchor="end">131.3</text>
<path d="M217.8 259.10 h1.6 M355.4 259.10 h-1.6" stroke="#3a3a3a" stroke-width="0.6" fill="none"/>
<text class="tk" transform="translate(215.50 261.60) scale(1 1.09)" text-anchor="end">131.4</text>
<path d="M217.8 240.50 h1.6 M355.4 240.50 h-1.6" stroke="#3a3a3a" stroke-width="0.6" fill="none"/>
<text class="tk" transform="translate(215.50 243.00) scale(1 1.09)" text-anchor="end">131.5</text>
<path d="M217.8 221.90 h1.6 M355.4 221.90 h-1.6" stroke="#3a3a3a" stroke-width="0.6" fill="none"/>
<text class="tk" transform="translate(215.50 224.40) scale(1 1.09)" text-anchor="end">131.6</text>
<path d="M217.8 203.30 h1.6 M355.4 203.30 h-1.6" stroke="#3a3a3a" stroke-width="0.6" fill="none"/>
<text class="tk" transform="translate(215.50 205.80) scale(1 1.09)" text-anchor="end">131.7</text>
<text class="lb" transform="translate(286.60 337.20) scale(1 1.09)" text-anchor="middle">Horizontal pixel position</text>
<text class="lb" transform="translate(193.50 253.65) rotate(-90) scale(1.11 1)" text-anchor="middle">Depth(mm)</text>
<rect x="278.2" y="198.2" width="75.5" height="29.5" fill="#ffffff" stroke="#3a3a3a" stroke-width="0.6"/>
<line x1="280.5" y1="203.50" x2="293.6" y2="203.50" stroke="#202020" stroke-width="0.6"/>
<text class="lg" transform="translate(295.20 206.45) scale(1 1.09)" text-anchor="start">True depth curve</text>
<line x1="280.5" y1="213.50" x2="293.6" y2="213.50" stroke="#ff2a2a" stroke-width="0.8"/>
<text class="lg" transform="translate(295.20 215.75) scale(1 1.09)" text-anchor="start">Original depth curve</text>
<line x1="280.5" y1="222.50" x2="293.6" y2="222.50" stroke="#2a2aff" stroke-width="0.8"/>
<text class="lg" transform="translate(295.20 225.05) scale(1 1.09)" text-anchor="start">Fusion depth curve</text>
<path d="M412.00 255.00 L496.30 257.60" fill="none" stroke="#202020" stroke-width="0.7" stroke-linejoin="round" stroke-linecap="round"/>
<path d="M403.90 256.60 C404.58 256.43 406.65 255.92 408.00 255.60 C409.35 255.28 410.67 255.07 412.00 254.70 C413.33 254.33 414.83 253.78 416.00 253.40 C417.17 253.02 418.08 252.77 419.00 252.40 C419.92 252.03 420.67 251.85 421.50 251.20 C422.33 250.55 423.17 249.62 424.00 248.50 C424.83 247.38 425.67 246.08 426.50 244.50 C427.33 242.92 428.17 241.12 429.00 239.00 C429.83 236.88 430.67 234.38 431.50 231.80 C432.33 229.22 433.17 226.38 434.00 223.50 C434.83 220.62 435.75 217.08 436.50 214.50 C437.25 211.92 437.83 209.78 438.50 208.00 C439.17 206.22 439.85 204.77 440.50 203.80 C441.15 202.83 441.82 202.08 442.40 202.20 C442.98 202.32 443.40 203.12 444.00 204.50 C444.60 205.88 445.25 208.00 446.00 210.50 C446.75 213.00 447.67 216.50 448.50 219.50 C449.33 222.50 450.17 225.42 451.00 228.50 C451.83 231.58 452.67 234.58 453.50 238.00 C454.33 241.42 455.17 245.17 456.00 249.00 C456.83 252.83 457.67 257.25 458.50 261.00 C459.33 264.75 460.08 267.92 461.00 271.50 C461.92 275.08 463.00 279.08 464.00 282.50 C465.00 285.92 466.00 289.08 467.00 292.00 C468.00 294.92 469.03 297.75 470.00 300.00 C470.97 302.25 471.93 304.13 472.80 305.50 C473.67 306.87 474.50 308.03 475.20 308.20 C475.90 308.37 476.28 307.78 477.00 306.50 C477.72 305.22 478.67 303.00 479.50 300.50 C480.33 298.00 481.08 294.92 482.00 291.50 C482.92 288.08 484.00 283.58 485.00 280.00 C486.00 276.42 487.00 272.83 488.00 270.00 C489.00 267.17 490.00 264.80 491.00 263.00 C492.00 261.20 493.12 260.08 494.00 259.20 C494.88 258.32 495.30 258.30 496.30 257.70 C497.30 257.10 498.72 256.25 500.00 255.60 C501.28 254.95 502.67 254.32 504.00 253.80 C505.33 253.28 506.33 252.87 508.00 252.50 C509.67 252.13 512.00 251.88 514.00 251.60 C516.00 251.32 518.02 251.02 520.00 250.80 C521.98 250.58 524.92 250.38 525.90 250.30" fill="none" stroke="#ff2020" stroke-width="0.85" stroke-linejoin="round" stroke-linecap="round"/>
<path d="M403.90 256.60 C404.58 256.43 406.65 255.92 408.00 255.60 C409.35 255.28 410.67 255.07 412.00 254.70 C413.33 254.33 414.83 253.78 416.00 253.40 C417.17 253.02 418.17 252.68 419.00 252.40 C419.83 252.12 420.47 251.67 421.00 251.70 C421.53 251.73 421.80 251.88 422.20 252.60 C422.60 253.32 423.00 255.12 423.40 256.00 C423.80 256.88 424.13 257.57 424.60 257.90 C425.07 258.23 425.73 258.38 426.20 258.00 C426.67 257.62 426.93 256.85 427.40 255.60 C427.87 254.35 428.40 252.18 429.00 250.50 C429.60 248.82 430.33 247.17 431.00 245.50 C431.67 243.83 432.37 242.00 433.00 240.50 C433.63 239.00 434.30 237.52 434.80 236.50 C435.30 235.48 435.57 234.55 436.00 234.40 C436.43 234.25 436.90 235.20 437.40 235.60 C437.90 236.00 438.40 236.47 439.00 236.80 C439.60 237.13 440.43 237.20 441.00 237.60 C441.57 238.00 441.97 238.30 442.40 239.20 C442.83 240.10 443.20 241.53 443.60 243.00 C444.00 244.47 444.32 246.53 444.80 248.00 C445.28 249.47 445.80 250.47 446.50 251.80 C447.20 253.13 448.08 254.63 449.00 256.00 C449.92 257.37 450.92 258.63 452.00 260.00 C453.08 261.37 454.42 262.95 455.50 264.20 C456.58 265.45 457.50 266.33 458.50 267.50 C459.50 268.67 460.58 269.95 461.50 271.20 C462.42 272.45 463.22 274.07 464.00 275.00 C464.78 275.93 465.45 276.60 466.20 276.80 C466.95 277.00 467.62 276.62 468.50 276.20 C469.38 275.78 470.50 275.17 471.50 274.30 C472.50 273.43 473.58 272.47 474.50 271.00 C475.42 269.53 476.08 267.75 477.00 265.50 C477.92 263.25 479.00 260.08 480.00 257.50 C481.00 254.92 482.00 252.42 483.00 250.00 C484.00 247.58 485.00 245.37 486.00 243.00 C487.00 240.63 488.08 237.80 489.00 235.80 C489.92 233.80 490.80 232.13 491.50 231.00 C492.20 229.87 492.75 229.23 493.20 229.00 C493.65 228.77 493.92 228.10 494.20 229.60 C494.48 231.10 494.68 234.60 494.90 238.00 C495.12 241.40 495.32 246.92 495.50 250.00 C495.68 253.08 495.87 255.22 496.00 256.50 C496.13 257.78 495.63 257.85 496.30 257.70 C496.97 257.55 498.72 256.25 500.00 255.60 C501.28 254.95 502.67 254.32 504.00 253.80 C505.33 253.28 506.33 252.87 508.00 252.50 C509.67 252.13 512.00 251.88 514.00 251.60 C516.00 251.32 518.02 251.02 520.00 250.80 C521.98 250.58 524.92 250.38 525.90 250.30" fill="none" stroke="#2020ff" stroke-width="0.85" stroke-linejoin="round" stroke-linecap="round"/>
<rect x="401.4" y="193.8" width="139" height="120.2" fill="none" stroke="#3a3a3a" stroke-width="0.75"/>
<text class="tk" transform="translate(401.40 325.70) scale(1 1.09)" text-anchor="middle">0</text>
<path d="M447.70 314 v-1.6 M447.70 193.8 v1.6" stroke="#3a3a3a" stroke-width="0.6" fill="none"/>
<text class="tk" transform="translate(447.70 325.70) scale(1 1.09)" text-anchor="middle">20</text>
<path d="M494.00 314 v-1.6 M494.00 193.8 v1.6" stroke="#3a3a3a" stroke-width="0.6" fill="none"/>
<text class="tk" transform="translate(494.00 325.70) scale(1 1.09)" text-anchor="middle">40</text>
<text class="tk" transform="translate(540.30 325.70) scale(1 1.09)" text-anchor="middle">60</text>
<path d="M401.4 294.40 h1.6 M540.4 294.40 h-1.6" stroke="#3a3a3a" stroke-width="0.6" fill="none"/>
<text class="tk" transform="translate(399.10 296.90) scale(1 1.09)" text-anchor="end">131.2</text>
<path d="M401.4 274.40 h1.6 M540.4 274.40 h-1.6" stroke="#3a3a3a" stroke-width="0.6" fill="none"/>
<text class="tk" transform="translate(399.10 276.90) scale(1 1.09)" text-anchor="end">131.3</text>
<path d="M401.4 254.40 h1.6 M540.4 254.40 h-1.6" stroke="#3a3a3a" stroke-width="0.6" fill="none"/>
<text class="tk" transform="translate(399.10 256.90) scale(1 1.09)" text-anchor="end">131.4</text>
<path d="M401.4 234.40 h1.6 M540.4 234.40 h-1.6" stroke="#3a3a3a" stroke-width="0.6" fill="none"/>
<text class="tk" transform="translate(399.10 236.90) scale(1 1.09)" text-anchor="end">131.5</text>
<path d="M401.4 214.40 h1.6 M540.4 214.40 h-1.6" stroke="#3a3a3a" stroke-width="0.6" fill="none"/>
<text class="tk" transform="translate(399.10 216.90) scale(1 1.09)" text-anchor="end">131.6</text>
<text class="lb" transform="translate(470.90 336.70) scale(1 1.09)" text-anchor="middle">Horizontal pixel position</text>
<text class="lb" transform="translate(377.10 253.40) rotate(-90) scale(1.11 1)" text-anchor="middle">Depth(mm)</text>
<rect x="462.4" y="197.8" width="75.9" height="29.6" fill="#ffffff" stroke="#3a3a3a" stroke-width="0.6"/>
<line x1="464.7" y1="203.50" x2="477.8" y2="203.50" stroke="#202020" stroke-width="0.6"/>
<text class="lg" transform="translate(479.40 206.05) scale(1 1.09)" text-anchor="start">True depth curve</text>
<line x1="464.7" y1="212.50" x2="477.8" y2="212.50" stroke="#ff2a2a" stroke-width="0.8"/>
<text class="lg" transform="translate(479.40 215.35) scale(1 1.09)" text-anchor="start">Original depth curve</text>
<line x1="464.7" y1="222.50" x2="477.8" y2="222.50" stroke="#2a2aff" stroke-width="0.8"/>
<text class="lg" transform="translate(479.40 224.65) scale(1 1.09)" text-anchor="start">Fusion depth curve</text>
</svg>
</body></html>
